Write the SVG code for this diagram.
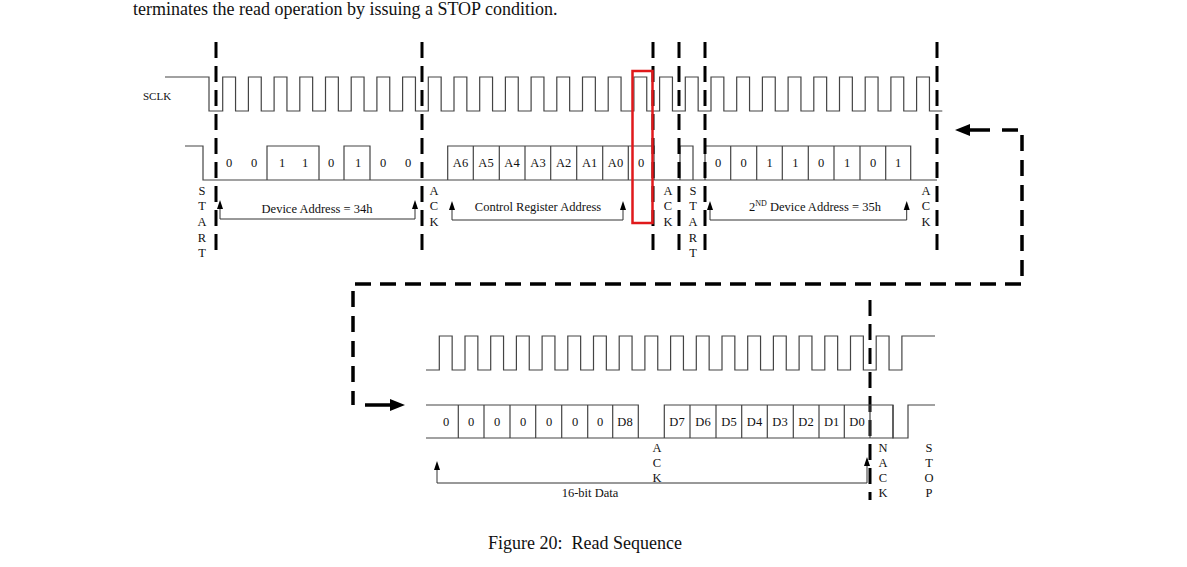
<svg xmlns="http://www.w3.org/2000/svg" width="1187" height="567" viewBox="0 0 1187 567">
<style>
text{font-family:"Liberation Serif","Times New Roman",serif;fill:#111}
.l{font-size:12.5px;text-anchor:middle}
.w{fill:none;stroke:#444;stroke-width:1.2}
.d{fill:none;stroke:#000;stroke-width:3;stroke-dasharray:16 8}
.s{fill:none;stroke:#333;stroke-width:1}
.h{fill:#000}
</style>
<rect width="1187" height="567" fill="#fff"/>
<text x="133" y="15" font-size="18">terminates the read operation by issuing a STOP condition.</text>
<text x="143" y="100" font-size="11">SCLK</text>
<g id="sclk-top"><path class="w" d="M165,77 H209 V111 H222.7 v-34h12.85v34h12.85 v-34h12.85v34h12.85 v-34h12.85v34h12.85 v-34h12.85v34h12.85 v-34h12.85v34h12.85 v-34h12.85v34h12.85 v-34h12.85v34h12.85 v-34h12.85v34h12.85 v-34h12.85v34h12.85 v-34h12.85v34h12.85 v-34h12.85v34h12.85 v-34h12.85v34h12.85 v-34h12.85v34h12.85 v-34h12.85v34h12.85 v-34h12.85v34h12.85 v-34h12.85v34h12.85 v-34h12.85v34h12.85 v-34h12.85v34h12.85 v-34h12.85v34h12.85 v-34h12.85v34h12.85 v-34h12.85v34h12.85 v-34h12.85v34h12.85 v-34h12.85v34h12.85 v-34h12.85v34h12.85 v-34h12.85v34h12.85 v-34h12.85v34h12.85 v-34h12.85v34h12.85 v-34h12.85v34h12.85"/></g>
<g id="sda-top">
<path class="w" d="M185,146 H203 V180 H937"/>
<path class="w" d="M267,180 V146 H319 V180 M344,180 V146 H370 V180"/>
<path class="w" d="M447.7,180 V146 H654 V180 M473.3,146 V180 M499.3,146 V180 M525,146 V180 M550.7,146 V180 M576.7,146 V180 M602.7,146 V180 M628.3,146 V180"/>
<path class="w" d="M680,180 V146 H693 V180"/>
<path class="w" d="M705,180 V146 H910.7 V180 M730.7,146 V180 M756.7,146 V180 M782.3,146 V180 M808.3,146 V180 M834,146 V180 M860,146 V180 M885.7,146 V180"/>
<g class="l">
<text x="229" y="167">0</text><text x="254" y="167">0</text><text x="282" y="167">1</text><text x="305" y="167">1</text><text x="331" y="167">0</text><text x="358" y="167">1</text><text x="383" y="167">0</text><text x="408" y="167">0</text>
<text x="460.5" y="167">A6</text><text x="486" y="167">A5</text><text x="512" y="167">A4</text><text x="538" y="167">A3</text><text x="563.7" y="167">A2</text><text x="589.7" y="167">A1</text><text x="615.5" y="167">A0</text><text x="641" y="167">0</text>
<text x="718" y="167">0</text><text x="743.7" y="167">0</text><text x="769.5" y="167">1</text><text x="795.3" y="167">1</text><text x="821" y="167">0</text><text x="847" y="167">1</text><text x="873" y="167">0</text><text x="898" y="167">1</text>
</g>
</g>
<g id="markers-top" class="l">
<text x="202" y="195">S</text><text x="202" y="210">T</text><text x="202" y="226">A</text><text x="202" y="242">R</text><text x="202" y="257">T</text>
<text x="434" y="195">A</text><text x="434" y="210">C</text><text x="434" y="226">K</text>
<text x="668" y="195">A</text><text x="668" y="210">C</text><text x="668" y="226">K</text>
<text x="693" y="195">S</text><text x="693" y="210">T</text><text x="693" y="226">A</text><text x="693" y="242">R</text><text x="693" y="257">T</text>
<text x="926" y="195">A</text><text x="926" y="210">C</text><text x="926" y="226">K</text>
</g>
<g id="dashes">
<path class="d" d="M216,42 V250 M422,42 V250 M653,42 V250 M679,42 V250 M705,42 V250 M937,42 V250 M870,300 V500"/>
</g>
<rect x="632.5" y="71" width="20" height="152" fill="none" stroke="#e0191b" stroke-width="2.5"/>
<g id="spans">
<path class="s" d="M220,205 V219 H415 V205"/>
<polygon class="h" points="220,200 217,209 223,209"/><polygon class="h" points="415,200 412,209 418,209"/>
<text x="317" y="213" class="l">Device Address = 34h</text>
<path class="s" d="M452,205 V220 H623 V205"/>
<polygon class="h" points="452,201 449,210 455,210"/><polygon class="h" points="623,201 620,210 626,210"/>
<text x="538" y="211" class="l">Control Register Address</text>
<path class="s" d="M710,205 V220 H906.7 V205"/>
<polygon class="h" points="710,201 707,210 713,210"/><polygon class="h" points="906.7,201 903.7,210 909.7,210"/>
<text x="815" y="211" class="l">2<tspan font-size="8" dy="-5">ND</tspan><tspan dy="5"> Device Address = 35h</tspan></text>
<path class="s" d="M437,466 V483 H867 V462"/>
<polygon class="h" points="437,461 434,470 440,470"/><polygon class="h" points="867,457 864,466 870,466"/>
<text x="590" y="497" class="l">16-bit Data</text>
</g>
<g id="loop">
<path fill="none" stroke="#000" stroke-width="3.5" stroke-dasharray="16 9" d="M1002,130 H1022 V284 H353 V405"/>
<path fill="none" stroke="#000" stroke-width="3.5" d="M970,130 H990 M365,405 H392"/>
<polygon points="955,130 970,124 970,136" fill="#000"/>
<polygon points="405,405 390,399 390,411" fill="#000"/>
</g>
<g id="sclk-bot"><path class="w" d="M426,370 H439.3 v-34h12.85v34h12.85 v-34h12.85v34h12.85 v-34h12.85v34h12.85 v-34h12.85v34h12.85 v-34h12.85v34h12.85 v-34h12.85v34h12.85 v-34h12.85v34h12.85 v-34h12.85v34h12.85 v-34h12.85v34h12.85 v-34h12.85v34h12.85 v-34h12.85v34h12.85 v-34h12.85v34h12.85 v-34h12.85v34h12.85 v-34h12.85v34h12.85 v-34h12.85v34h12.85 v-34h12.85v34h12.85 v-34h12.85v34h12.85 v-34h12.85v34h12.85 v-34 H935"/></g>
<g id="sda-bot">
<path class="w" d="M426,438 H893 V405 M426,405 H638.3 V438 M458.3,405 V438 M484,405 V438 M510,405 V438 M535.7,405 V438 M561.7,405 V438 M587.7,405 V438 M612.7,405 V438"/>
<path class="w" d="M664.3,438 V405 H893 V438 H908 V405 H935 M690,405 V438 M716,405 V438 M741.7,405 V438 M767.3,405 V438 M793.3,405 V438 M819,405 V438 M844.3,405 V438 M870,405 V438"/>
<g class="l">
<text x="446" y="426">0</text><text x="471" y="426">0</text><text x="497" y="426">0</text><text x="523" y="426">0</text><text x="549" y="426">0</text><text x="575" y="426">0</text><text x="600" y="426">0</text><text x="625" y="426">D8</text>
<text x="677" y="426">D7</text><text x="703" y="426">D6</text><text x="729" y="426">D5</text><text x="754.5" y="426">D4</text><text x="780" y="426">D3</text><text x="806" y="426">D2</text><text x="831.7" y="426">D1</text><text x="857" y="426">D0</text>
<text x="657" y="452">A</text><text x="657" y="467">C</text><text x="657" y="482">K</text>
<text x="883" y="452">N</text><text x="883" y="467">A</text><text x="883" y="482">C</text><text x="883" y="497">K</text>
<text x="929" y="452">S</text><text x="929" y="467">T</text><text x="929" y="482">O</text><text x="929" y="497">P</text>
</g>
</g>
<text x="585" y="549" font-size="18" text-anchor="middle" xml:space="preserve">Figure 20:  Read Sequence</text>
</svg>
